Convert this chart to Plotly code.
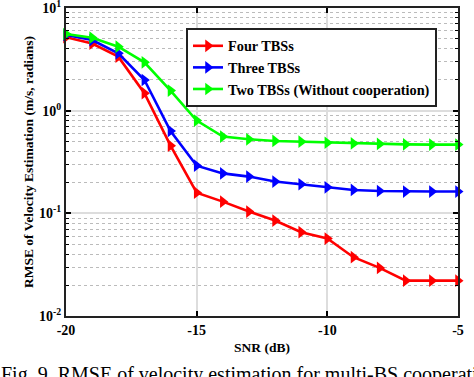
import plotly.graph_objects as go

snr = list(range(-20, -4))
four_tbs = [5.2, 4.5, 3.36, 1.48, 0.456, 0.159, 0.13, 0.104, 0.085, 0.0655, 0.0568, 0.0374, 0.0294, 0.0221, 0.0221, 0.0221]
three_tbs = [5.46, 4.87, 3.62, 1.99, 0.634, 0.291, 0.245, 0.228, 0.204, 0.192, 0.179, 0.169, 0.165, 0.163, 0.163, 0.163]
two_tbs = [5.58, 5.14, 4.2, 2.96, 1.57, 0.80, 0.559, 0.526, 0.507, 0.499, 0.487, 0.48, 0.474, 0.47, 0.467, 0.467]
names = ["Four TBSs", "Three TBSs", "Two TBSs (Without cooperation)"]
colors = ["#ff0000", "#0000ff", "#00ff00"]

x_ticks = [-20, -15, -10, -5]
y_ticks = [0.01, 0.1, 1, 10]
y_ticktext = ["10<sup>-2</sup>", "10<sup>-1</sup>", "10<sup>0</sup>", "10<sup>1</sup>"]
minor_vals = [m * d for d in (0.01, 0.1, 1) for m in range(2, 10)]

FONT = "Liberation Serif"

fig = go.Figure()
for name, ys, c in zip(names, [four_tbs, three_tbs, two_tbs], colors):
    fig.add_trace(go.Scatter(
        x=snr, y=ys, name=name, mode="lines+markers",
        line=dict(color=c, width=2.6),
        marker=dict(symbol="triangle-right", size=11, color=c),
        cliponaxis=False,
    ))

W, H = 474, 377
ml, mr, mt, mb = 66, 16, 8, 61
pw, ph = W - ml - mr, H - mt - mb

fig.update_layout(
    width=W, height=H,
    margin=dict(l=ml, r=mr, t=mt, b=mb, autoexpand=False),
    paper_bgcolor="white", plot_bgcolor="white",
    font=dict(family=FONT, color="black"),
    showlegend=True,
    legend=dict(
        x=(186 - ml) / pw, y=(H - mb - 28) / ph, xanchor="left", yanchor="top",
        bgcolor="white", bordercolor="#222", borderwidth=2,
        font=dict(family=FONT, size=14.3, color="black", weight="bold"),
        tracegroupgap=0, itemwidth=30,
    ),
    xaxis=dict(
        range=[-20, -5], tickvals=x_ticks, ticktext=[str(v) for v in x_ticks],
        automargin=False, ticklabeloverflow="allow",
        showgrid=True, gridcolor="#dddddd", gridwidth=1.5,
        ticks="inside", ticklen=5, tickwidth=1.5, tickcolor="black",
        showline=True, linecolor="#222", linewidth=2, mirror="ticks",
        zeroline=False,
        tickfont=dict(family=FONT, size=14, weight="bold"),
        title=dict(text="SNR (dB)", font=dict(family=FONT, size=13.5, weight="bold"), standoff=6),
    ),
    yaxis=dict(
        type="log", range=[-2, 1], tickvals=y_ticks, ticktext=y_ticktext,
        automargin=False, ticklabeloverflow="allow",
        showgrid=True, gridcolor="#dddddd", gridwidth=1.5,
        ticks="inside", ticklen=5, tickwidth=1.5, tickcolor="black",
        showline=True, linecolor="#222", linewidth=2, mirror="ticks",
        zeroline=False,
        tickfont=dict(family=FONT, size=14, weight="bold"),
        minor=dict(tickvals=minor_vals, showgrid=True, gridcolor="#bbbbbb",
                   griddash="dot", gridwidth=1, ticks="inside", ticklen=3,
                   tickcolor="black", tickwidth=1),
        title=dict(text="RMSE of Velocity Estimation (m/s, radians)",
                   font=dict(family=FONT, size=13.5, weight="bold"), standoff=2),
    ),
)

fig.add_annotation(
    text="Fig. 9. RMSE of velocity estimation for multi-BS cooperation",
    xref="paper", yref="paper", x=-(ml + 1) / pw, y=-(361 - (H - mb)) / ph,
    xanchor="left", yanchor="top", showarrow=False,
    font=dict(family=FONT, size=20, color="black"),
)

fig.write_html("out.html", post_script="document.body.style.margin='0';",
               config={"displayModeBar": False})
